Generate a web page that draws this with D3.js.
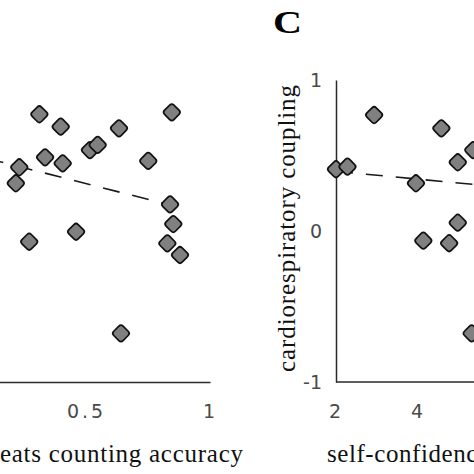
<!DOCTYPE html>
<html>
<head>
<meta charset="utf-8">
<script src="https://cdn.jsdelivr.net/npm/d3@7"></script>
<style>
  body { margin: 0; background: #fff; }
  svg { display: block; }
  .tick text { font-family: "DejaVu Sans", sans-serif; font-size: 19px; fill: #4a4a4a; letter-spacing: 3px; }
  .label { font-family: "Liberation Serif", "Times New Roman", serif; font-size: 25px; fill: #111; }
</style>
</head>
<body>
<script>
// Panel B (left, cropped): heartbeats counting accuracy vs coupling.
var accuracyX = [0.312, 0.398, 0.633, 0.846, 0.516, 0.547, 0.335, 0.406, 0.751,
                 0.231, 0.217, 0.839, 0.852, 0.460, 0.271, 0.828, 0.879, 0.641];
var accuracyY = [0.773, 0.691, 0.680, 0.786, 0.536, 0.570, 0.488, 0.448, 0.464,
                 0.422, 0.316, 0.176, 0.046, -0.005, -0.071, -0.082, -0.159, -0.678];
var accuracyFitX = [0.10, 0.855],
    accuracyFitY = [0.481, 0.166];

// Panel C (right, cropped): self-confidence vs coupling.
var confidenceX = [2.0, 2.28, 2.93, 4.57, 4.97, 5.35, 3.95, 4.97, 4.13, 4.76, 5.31];
var confidenceY = [0.409, 0.426, 0.768, 0.680, 0.455, 0.536, 0.316, 0.055, -0.064, -0.081, -0.678];
var confidenceFitX = [2.0, 6.0],
    confidenceFitY = [0.395, 0.292];

// Only the ticks that fall inside the crop.
var yTicks = [-1, 0, 1],
    accuracyTicks = [0.5, 1],
    confidenceTicks = [2, 4];

var width = 474, height = 474;

var svg = d3.select('body').append('svg')
  .attr('width', width)
  .attr('height', height);

// Shared vertical scale for both panels.
var y = d3.scaleLinear().domain([-1, 1]).range([382, 80]);

var xLeft = d3.scaleLinear().domain([0, 1]).range([-38, 210]);
var xRight = d3.scaleLinear().domain([2, 4]).range([336, 418]);

function drawPanel(x, ticks, xs, ys, fitX, fitY, showYLabels) {
  var g = svg.append('g');

  var xAxis = g.append('g')
    .attr('transform', 'translate(0,' + y(-1) + ')')
    .call(d3.axisBottom(x).tickValues(ticks).tickSize(0).tickPadding(23)
      .tickFormat(function (d) { return String(d); }));
  xAxis.select('.domain').attr('stroke', '#2a2a2a').attr('stroke-width', 1.5);
  // d3 draws the domain only over the scale range; stretch the right one to the edge.
  if (x.range()[1] < width && x === xRight) {
    xAxis.select('.domain').attr('d', 'M' + x.range()[0] + ',0H' + width);
  }

  // The left panel's y axis sits outside the crop, so only its line is kept.
  var yAxis = g.append('g')
    .attr('transform', 'translate(' + x.range()[0] + ',0)')
    .call(d3.axisLeft(y).tickValues(showYLabels ? yTicks : []).tickSize(0).tickPadding(14)
      .tickFormat(function (d) { return String(d); }));
  yAxis.select('.domain').attr('stroke', '#2a2a2a').attr('stroke-width', 1.5);
  yAxis.selectAll('.tick text').style('letter-spacing', '0px');

  // Fitted regression line, dashed.
  var line = d3.line()
    .x(function (d) { return x(d[0]); })
    .y(function (d) { return y(d[1]); });
  g.append('path')
    .datum(d3.zip(fitX, fitY))
    .attr('d', line)
    .attr('fill', 'none')
    .attr('stroke', '#1a1a1a')
    .attr('stroke-width', 1.6)
    .attr('stroke-dasharray', '17,13');

  // Diamond markers.
  g.selectAll('rect.pt')
    .data(d3.zip(xs, ys))
    .enter().append('rect')
    .attr('class', 'pt')
    .attr('x', -6.6).attr('y', -6.6)
    .attr('width', 13.2).attr('height', 13.2)
    .attr('rx', 3)
    .attr('transform', function (d) {
      return 'translate(' + x(d[0]) + ',' + y(d[1]) + ') rotate(45)';
    })
    .attr('fill', '#808080')
    .attr('stroke', '#111')
    .attr('stroke-width', 1.7);
}

drawPanel(xLeft, accuracyTicks, accuracyX, accuracyY, accuracyFitX, accuracyFitY, false);
drawPanel(xRight, confidenceTicks, confidenceX, confidenceY, confidenceFitX, confidenceFitY, true);

// Axis titles.
svg.append('text')
  .attr('class', 'label')
  .attr('x', -67).attr('y', 462)
  .attr('textLength', 310)
  .text('heartbeats counting accuracy');

svg.append('text')
  .attr('class', 'label')
  .attr('x', 327).attr('y', 462)
  .attr('textLength', 162)
  .text('self-confidence');

svg.append('text')
  .attr('class', 'label')
  .attr('transform', 'translate(295,' + (85 + 287 / 2) + ') rotate(-90)')
  .attr('text-anchor', 'middle')
  .attr('textLength', 287)
  .text('cardiorespiratory coupling');

// Panel letter.
svg.append('text')
  .attr('x', 273).attr('y', 33)
  .attr('textLength', 29)
  .attr('lengthAdjust', 'spacingAndGlyphs')
  .style('font-family', '"Liberation Serif", serif')
  .style('font-weight', 'bold')
  .style('font-size', '31px')
  .text('C');
</script>
</body>
</html>
